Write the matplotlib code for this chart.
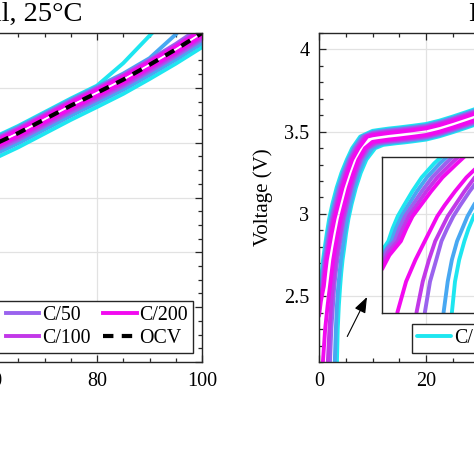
import matplotlib
matplotlib.use('Agg')
import matplotlib.pyplot as plt
from matplotlib.ticker import MultipleLocator, FuncFormatter

plt.rcParams['font.family'] = ['Liberation Serif', 'DejaVu Serif']

# ---------------- data ----------------
rates = ['C/10', 'C/20', 'C/50', 'C/100', 'C/200']
colors = ['#1EE6F0', '#48A8F2', '#9A63EE', '#C238E8', '#F20AF0']

# Left panel: full cell, voltage vs SOC (%)
soc_full = [55, 60, 65, 70, 75, 80, 85, 90, 95, 100]
ocv_full = [3.750, 3.790, 3.835, 3.885, 3.935, 3.982, 4.030, 4.084, 4.140, 4.200]
full_chg_c10 = [3.776, 3.816, 3.861, 3.911, 3.961, 4.008, 4.090, 4.190, 4.290, 4.390]
full_chg_c20 = [3.772, 3.812, 3.857, 3.907, 3.957, 4.004, 4.052, 4.108, 4.195, 4.300]
full_chg_c50 = [3.768, 3.808, 3.853, 3.903, 3.953, 4.000, 4.048, 4.102, 4.160, 4.225]
full_chg_c100 = [3.764, 3.804, 3.849, 3.899, 3.949, 3.996, 4.044, 4.098, 4.154, 4.213]
full_chg_c200 = [3.760, 3.800, 3.845, 3.895, 3.945, 3.992, 4.040, 4.094, 4.150, 4.210]
full_dch_c10 = [3.698, 3.738, 3.783, 3.833, 3.883, 3.930, 3.978, 4.032, 4.088, 4.148]
full_dch_c20 = [3.713, 3.753, 3.798, 3.848, 3.898, 3.945, 3.993, 4.047, 4.103, 4.163]
full_dch_c50 = [3.725, 3.765, 3.810, 3.860, 3.910, 3.957, 4.005, 4.059, 4.115, 4.175]
full_dch_c100 = [3.733, 3.773, 3.818, 3.868, 3.918, 3.965, 4.013, 4.067, 4.123, 4.183]
full_dch_c200 = [3.740, 3.780, 3.825, 3.875, 3.925, 3.972, 4.020, 4.074, 4.130, 4.190]

# Right panel: half cell, voltage vs SOC (%) -- charge curves
half_chg_c10_x = [0, 0.3, 0.5, 0.75, 1.05, 1.45, 1.9, 2.5, 3.3, 4.2, 5.2, 6.2, 7.7,
                  10, 11, 13, 15, 17.5, 20, 22.5, 25, 27.5, 30, 35]
half_chg_c10_v = [2.50, 2.56, 2.64, 2.72, 2.79, 2.88, 2.97, 3.06, 3.16, 3.25, 3.33, 3.40, 3.47,
                  3.505, 3.510, 3.519, 3.526, 3.536, 3.547, 3.567, 3.592, 3.619, 3.647, 3.697]
half_chg_c20_x = [0, 0.45, 0.66, 0.93, 1.25, 1.67, 2.15, 2.77, 3.58, 4.48, 5.45, 6.5, 8.0,
                  10, 11, 13, 15, 17.5, 20, 22.5, 25, 27.5, 30, 35]
half_chg_c20_v = [2.47, 2.56, 2.64, 2.72, 2.79, 2.88, 2.97, 3.06, 3.16, 3.25, 3.33, 3.40, 3.47,
                  3.498, 3.503, 3.512, 3.519, 3.529, 3.540, 3.560, 3.585, 3.612, 3.640, 3.690]
half_chg_c50_x = [0, 0.25, 0.6, 0.82, 1.1, 1.45, 1.9, 2.4, 3.05, 3.85, 4.75, 5.7, 6.8, 8.3,
                  10, 11, 13, 15, 17.5, 20, 22.5, 25, 27.5, 30, 35]
half_chg_c50_v = [2.44, 2.51, 2.56, 2.64, 2.72, 2.79, 2.88, 2.97, 3.06, 3.16, 3.25, 3.33, 3.40, 3.47,
                  3.492, 3.497, 3.506, 3.513, 3.523, 3.534, 3.554, 3.579, 3.606, 3.634, 3.684]
half_chg_c100_x = [0, 0.3, 0.75, 0.99, 1.28, 1.65, 2.12, 2.65, 3.32, 4.13, 5.03, 5.95, 7.1, 8.65,
                   10, 11, 13, 15, 17.5, 20, 22.5, 25, 27.5, 30, 35]
half_chg_c100_v = [2.41, 2.49, 2.56, 2.64, 2.72, 2.79, 2.88, 2.97, 3.06, 3.16, 3.25, 3.33, 3.40, 3.47,
                   3.485, 3.490, 3.499, 3.506, 3.516, 3.527, 3.547, 3.572, 3.599, 3.627, 3.677]
half_chg_c200_x = [0, 0.35, 0.9, 1.16, 1.46, 1.85, 2.35, 2.9, 3.6, 4.4, 5.3, 6.2, 7.4, 9.0,
                   10, 11, 13, 15, 17.5, 20, 22.5, 25, 27.5, 30, 35]
half_chg_c200_v = [2.38, 2.47, 2.56, 2.64, 2.72, 2.79, 2.88, 2.97, 3.06, 3.16, 3.25, 3.33, 3.40, 3.47,
                   3.478, 3.483, 3.492, 3.499, 3.509, 3.520, 3.540, 3.565, 3.592, 3.620, 3.670]

# Right panel -- discharge curves
half_dch_c10_x = [3.35, 3.5, 3.7, 3.95, 4.15, 4.4, 4.7, 5.05, 5.5, 6.1, 6.9, 7.8, 8.85, 10.5,
                  12, 13, 14.5, 16, 17.5, 20, 22.5, 25, 27.5, 30, 35]
half_dch_c10_v = [2.10, 2.30, 2.44, 2.56, 2.64, 2.72, 2.79, 2.88, 2.97, 3.06, 3.16, 3.25, 3.33, 3.40,
                  3.420, 3.424, 3.430, 3.435, 3.441, 3.452, 3.472, 3.497, 3.524, 3.552, 3.602]
half_dch_c20_x = [2.95, 3.15, 3.35, 3.6, 3.85, 4.1, 4.4, 4.8, 5.25, 5.85, 6.6, 7.45, 8.45, 10.0,
                  11.5, 12.5, 14, 15.5, 17.5, 20, 22.5, 25, 27.5, 30, 35]
half_dch_c20_v = [2.10, 2.30, 2.44, 2.56, 2.64, 2.72, 2.79, 2.88, 2.97, 3.06, 3.16, 3.25, 3.33, 3.40,
                  3.425, 3.429, 3.435, 3.440, 3.448, 3.459, 3.479, 3.504, 3.531, 3.559, 3.609]
half_dch_c50_x = [2.05, 2.3, 2.6, 2.85, 3.12, 3.42, 3.75, 4.2, 4.7, 5.35, 6.15, 7.0, 7.95, 9.3,
                  10.8, 12, 13.5, 15, 17.5, 20, 22.5, 25, 27.5, 30, 35]
half_dch_c50_v = [2.10, 2.30, 2.44, 2.56, 2.64, 2.72, 2.79, 2.88, 2.97, 3.06, 3.16, 3.25, 3.33, 3.40,
                  3.428, 3.434, 3.440, 3.445, 3.455, 3.466, 3.486, 3.511, 3.538, 3.566, 3.616]
half_dch_c100_x = [1.65, 1.95, 2.25, 2.55, 2.85, 3.15, 3.5, 3.95, 4.45, 5.1, 5.9, 6.75, 7.65, 8.9,
                   10.5, 11.5, 13, 15, 17.5, 20, 22.5, 25, 27.5, 30, 35]
half_dch_c100_v = [2.10, 2.30, 2.44, 2.56, 2.64, 2.72, 2.79, 2.88, 2.97, 3.06, 3.16, 3.25, 3.33, 3.40,
                   3.433, 3.439, 3.445, 3.452, 3.462, 3.473, 3.493, 3.518, 3.545, 3.573, 3.623]
half_dch_c200_x = [0.73, 1.15, 1.6, 2.05, 2.35, 2.65, 3.0, 3.5, 4.05, 4.75, 5.55, 6.45, 7.35, 8.6,
                   10, 11, 13, 15, 17.5, 20, 22.5, 25, 27.5, 30, 35]
half_dch_c200_v = [2.10, 2.30, 2.44, 2.56, 2.64, 2.72, 2.79, 2.88, 2.97, 3.06, 3.16, 3.25, 3.33, 3.40,
                   3.438, 3.443, 3.452, 3.459, 3.469, 3.480, 3.500, 3.525, 3.552, 3.580, 3.630]

full_chg = [full_chg_c10, full_chg_c20, full_chg_c50, full_chg_c100, full_chg_c200]
full_dch = [full_dch_c10, full_dch_c20, full_dch_c50, full_dch_c100, full_dch_c200]
half_chg = [(half_chg_c10_x, half_chg_c10_v), (half_chg_c20_x, half_chg_c20_v),
            (half_chg_c50_x, half_chg_c50_v), (half_chg_c100_x, half_chg_c100_v),
            (half_chg_c200_x, half_chg_c200_v)]
half_dch = [(half_dch_c10_x, half_dch_c10_v), (half_dch_c20_x, half_dch_c20_v),
            (half_dch_c50_x, half_dch_c50_v), (half_dch_c100_x, half_dch_c100_v),
            (half_dch_c200_x, half_dch_c200_v)]

# ---------------- figure ----------------
W = H = 474.0
fig = plt.figure(figsize=(4.74, 4.74), dpi=100)
axL = fig.add_axes([-323 / W, 112 / H, 525 / W, 329 / H])
axR = fig.add_axes([319 / W, 112 / H, 535 / W, 329 / H])

fmt = FuncFormatter(lambda v, p: '%g' % round(v, 3))
LW = 2.8


def style(ax):
    ax.tick_params(which='both', direction='in', top=True, right=True,
                   labelsize=14.5, color='#262626', width=0.9)
    ax.tick_params(which='major', length=5, pad=7)
    ax.tick_params(which='minor', length=3)
    ax.grid(True, which='major', color='#E2E2E2', lw=0.9)
    ax.set_axisbelow(True)
    for s in ax.spines.values():
        s.set_color('#262626')
        s.set_linewidth(1.0)
    ax.xaxis.set_major_formatter(fmt)
    ax.yaxis.set_major_formatter(fmt)


# Left panel
for i in range(5):
    axL.plot(soc_full, full_chg[i], color=colors[i], lw=LW, label=rates[i])
    axL.plot(soc_full, full_dch[i], color=colors[i], lw=LW)
axL.plot(soc_full, ocv_full, color='white', lw=1.3)
axL.plot(soc_full, ocv_full, color='black', lw=3, dashes=(2.5, 2.0), label='OCV')
axL.set_xlim(0, 100)
axL.set_ylim(3.0, 4.2)
axL.xaxis.set_major_locator(MultipleLocator(20))
axL.xaxis.set_minor_locator(MultipleLocator(5))
axL.yaxis.set_major_locator(MultipleLocator(0.2))
axL.yaxis.set_minor_locator(MultipleLocator(0.05))
style(axL)
axL.set_xlabel('SOC (%)', fontsize=15)
legL = axL.legend(ncol=3, loc='lower right', bbox_to_anchor=(0.983, 0.027),
                  fontsize=14.3, frameon=True, fancybox=False, edgecolor='#262626',
                  framealpha=1, borderpad=0.25, labelspacing=0.2, handlelength=1.7,
                  handletextpad=0.15, columnspacing=0.6, borderaxespad=0)
legL.get_frame().set_linewidth(1.0)

# Right panel
for i in range(5):
    axR.plot(half_chg[i][0], half_chg[i][1], color=colors[i], lw=LW, label=rates[i],
             solid_capstyle='round', solid_joinstyle='round')
    axR.plot(half_dch[i][0], half_dch[i][1], color=colors[i], lw=LW,
             solid_capstyle='round', solid_joinstyle='round')
axR.set_xlim(0, 100)
axR.set_ylim(2.1, 4.1)
axR.xaxis.set_major_locator(MultipleLocator(20))
axR.xaxis.set_minor_locator(MultipleLocator(5))
axR.yaxis.set_major_locator(MultipleLocator(0.5))
axR.yaxis.set_minor_locator(MultipleLocator(0.1))
style(axR)
axR.set_ylabel('Voltage (V)', fontsize=15, labelpad=8)
axR.set_xlabel('SOC (%)', fontsize=15)
legR = axR.legend(ncol=5, loc='lower left', bbox_to_anchor=(0.174, 0.027),
                  fontsize=14.3, frameon=True, fancybox=False, edgecolor='#262626',
                  framealpha=1, borderpad=0.25, handlelength=1.7,
                  handletextpad=0.15, columnspacing=0.6, borderaxespad=0)
legR.get_frame().set_linewidth(1.0)

# Inset (zoom of the low-SOC region)
axI = axR.inset_axes([11.8, 2.4, 46.7, 0.945], transform=axR.transData)
for i in range(5):
    axI.plot(half_chg[i][0], half_chg[i][1], color=colors[i], lw=LW,
             solid_capstyle='round', solid_joinstyle='round')
    axI.plot(half_dch[i][0], half_dch[i][1], color=colors[i], lw=LW,
             solid_capstyle='round', solid_joinstyle='round')
axI.set_xlim(0, 12.0)
axI.set_ylim(2.1, 3.1)
axI.set_xticks([])
axI.set_yticks([])
axI.set_facecolor('none')
for s in axI.spines.values():
    s.set_color('#262626')
    s.set_linewidth(1.0)

axR.annotate('', xy=(9.2, 2.51), xytext=(5.05, 2.24),
             arrowprops=dict(arrowstyle='-|>,head_length=0.8,head_width=0.3',
                             color='black', lw=0.8, mutation_scale=12))

# Titles
fig.text(83 / W, 1 - 21 / H, 'Full cell, 25°C', ha='right', va='baseline', fontsize=20.5)
fig.text(469 / W, 1 - 21 / H, 'Half cell, 25°C', ha='left', va='baseline', fontsize=20.5)

fig.savefig('out.png', dpi=100)
